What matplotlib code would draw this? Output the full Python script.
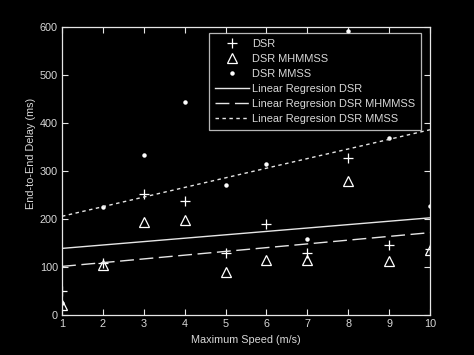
import numpy as np
import matplotlib
matplotlib.use("Agg")
import matplotlib.pyplot as plt

plt.rcParams['font.family'] = ['Liberation Sans', 'DejaVu Sans']

speed = [1, 2, 3, 4, 5, 6, 7, 8, 9, 10]
dsr = [49, 108, 252, 238, 130, 189, 130, 327, 146, 137]
dsr_mhmmss = [21, 104, 194, 198, 90, 115, 115, 279, 113, 135]
dsr_mmss = [26, 224, 333, 444, 271, 314, 158, 592, 368, 228]
xticks = [1, 2, 3, 4, 5, 6, 7, 8, 9, 10]
yticks = [0, 100, 200, 300, 400, 500, 600]

fg = '#e6e6e6'
txt = '#d8d8d8'

fig = plt.figure(figsize=(4.74, 3.55), dpi=100, facecolor='black')
ax = fig.add_axes([62/474, 40/355, 368/474, 288/355], facecolor='black')

x = np.array(speed, dtype=float)
ax.plot(x, dsr, linestyle='none', marker='+', markersize=6.5, mew=0.9, color='white', label='DSR')
ax.plot(x, dsr_mhmmss, linestyle='none', marker='^', markersize=6.5, mew=0.9, mfc='none', mec='white', label='DSR MHMMSS')
ax.plot(x, dsr_mmss, linestyle='none', marker='o', markersize=2.2, color='white', label='DSR MMSS')

xl = np.array([x.min(), x.max()])
for ys, ls, lab in [(dsr, '-', 'Linear Regresion DSR'),
                    (dsr_mhmmss, (0, (10, 4)), 'Linear Regresion DSR MHMMSS'),
                    (dsr_mmss, (0, (2.5, 2.5)), 'Linear Regresion DSR MMSS')]:
    c = np.polyfit(x, ys, 1)
    ax.plot(xl, np.polyval(c, xl), linestyle=ls, color=fg, lw=1.0, label=lab)

ax.set_xlim(1, 10)
ax.set_ylim(0, 600)
ax.set_xticks(xticks)
ax.set_yticks(yticks)
ax.tick_params(direction='in', length=4, width=0.8, colors=fg, labelcolor=txt,
               labelsize=7.8, top=True, right=True, pad=3)
for s in ax.spines.values():
    s.set_color(fg)
    s.set_linewidth(0.9)

ax.set_xlabel('Maximum Speed (m/s)', color=txt, fontsize=7.8, labelpad=4)
ax.set_ylabel('End-to-End Delay (ms)', color=txt, fontsize=7.8)
ax.yaxis.set_label_coords(-0.072, 0.56)

leg = ax.legend(loc='upper left', bbox_to_anchor=(209/474, 1 - 33/355), bbox_transform=fig.transFigure,
                fontsize=7.9, frameon=True, fancybox=False, facecolor='black', edgecolor=fg,
                labelcolor=txt, handlelength=3.1, handletextpad=0.25, labelspacing=0.45,
                borderpad=0.55, borderaxespad=0)
leg.get_frame().set_linewidth(0.9)

fig.savefig('out.png', dpi=100, facecolor='black')
